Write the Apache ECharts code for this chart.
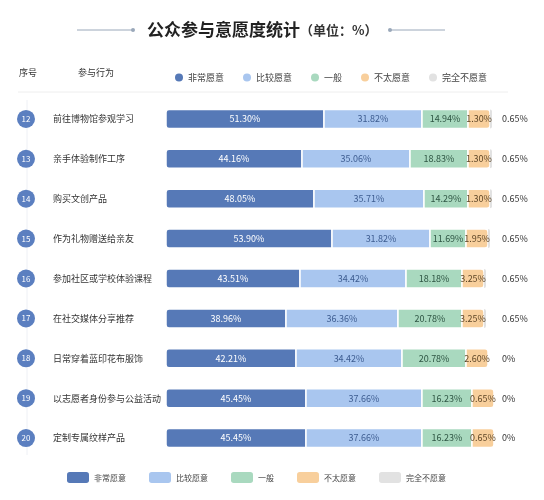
<!DOCTYPE html>
<html>
<head>
<meta charset="utf-8">
<title>公众参与意愿度统计</title>
<script src="https://cdn.jsdelivr.net/npm/echarts@6/dist/echarts.min.js"></script>
<style>
	html, body { margin: 0; padding: 0; background: #fff; }
	#main { width: 544px; height: 500px; }
</style>
</head>
<body>
<div id="main"></div>
<script>
// 序号与参与行为
var ids = [12, 13, 14, 15, 16, 17, 18, 19, 20];
var actions = ['前往博物馆参观学习', '亲手体验制作工序', '购买文创产品', '作为礼物赠送给亲友', '参加社区或学校体验课程',
	'在社交媒体分享推荐', '日常穿着蓝印花布服饰', '以志愿者身份参与公益活动', '定制专属纹样产品'];

// 各意愿等级占比（%）
var veryWilling = [51.30, 44.16, 48.05, 53.90, 43.51, 38.96, 42.21, 45.45, 45.45];
var fairlyWilling = [31.82, 35.06, 35.71, 31.82, 34.42, 36.36, 34.42, 37.66, 37.66];
var neutral = [14.94, 18.83, 14.29, 11.69, 18.18, 20.78, 20.78, 16.23, 16.23];
var unwilling = [1.30, 1.30, 1.30, 1.95, 3.25, 3.25, 2.60, 0.65, 0.65];
var veryUnwilling = [0.65, 0.65, 0.65, 0.65, 0.65, 0.65, 0, 0, 0];

var levels = ['非常愿意', '比较愿意', '一般', '不太愿意', '完全不愿意'];
var colors = ['#5679b7', '#a9c6ef', '#a9d9bf', '#f8cf9c', '#e2e2e2'];
var labelColors = ['#fff', '#3d5c90', '#2e5543', '#5e4627', '#333'];

var FONT = '"Noto Sans CJK SC", "Noto Sans", sans-serif';
var BAR_H = 19;
// 小数值段的最小显示宽度（像素），否则放不下标签
var minWidths = [0, 0, 0, 22, 0];
var allLevels = [veryWilling, fairlyWilling, neutral, unwilling, veryUnwilling];

function pct(v) {
	return v === 0 ? '0%' : v.toFixed(2) + '%';
}

function segWidth(l, row, api) {
	var w = api.size([allLevels[l][row], 0])[0];
	return Math.max(w, minWidths[l]);
}

function makeRender(level) {
	return function(params, api) {
		var row = api.value(1);
		var base = api.coord([0, row]);
		var x = base[0];
		for (var l = 0; l < level; l++) x += segWidth(l, row, api);
		var w = segWidth(level, row, api);
		var r = 0;
		if (level == 0) r = [3, 0, 0, 3];
		if (level == 3 || level == 4) r = [0, 3, 3, 0];
		var last = level == 4;
		var textConfig = { position: 'inside' };
		if (last) {
			// 完全不愿意的数值统一写在右侧一列
			var colX = api.coord([100, row])[0] + 28;
			textConfig = { position: [colX - x, BAR_H / 2], origin: [0, 0] };
		}
		return {
			type: 'rect',
			shape: { x: x, y: base[1] - BAR_H / 2, width: w, height: BAR_H, r: r },
			style: { fill: colors[level], stroke: '#fff', lineWidth: last ? 0 : 1.5 },
			textContent: {
				style: {
					text: pct(api.value(0)),
					fill: labelColors[level],
					fontSize: 9,
					fontFamily: FONT,
					align: last ? 'left' : 'center',
					verticalAlign: 'middle'
				}
			},
			textConfig: textConfig
		};
	};
}

var series = [];
for (var i = 0; i < levels.length; i++) {
	series.push({
		name: levels[i],
		type: 'custom',
		renderItem: makeRender(i),
		encode: { x: 0, y: 1 },
		itemStyle: { color: colors[i] },
		data: allLevels[i].map(function(v, idx) { return [v, idx]; })
	});
}

var chart = echarts.init(document.getElementById('main'));

var option = {
	backgroundColor: '#fff',
	animation: false,
	textStyle: { fontFamily: FONT },
	color: colors,
	title: {
		left: 142,
		top: 16,
		text: '{a|公众参与意愿度统计}{b|（单位：%）}',
		textStyle: {
			rich: {
				a: { fontSize: 17, fontWeight: 'bold', color: '#222', fontFamily: FONT },
				b: { fontSize: 13, fontWeight: 'bold', color: '#333', fontFamily: FONT, padding: [2, 0, 0, 0] }
			}
		}
	},
	legend: [
		{
			data: levels,
			left: 170,
			top: 68,
			icon: 'circle',
			itemWidth: 8,
			itemHeight: 8,
			itemGap: 19,
			itemStyle: { borderWidth: 0 },
			textStyle: { fontSize: 9, color: '#444', fontFamily: FONT },
			selectedMode: false
		},
		{
			data: levels,
			left: 62,
			top: 467,
			icon: 'roundRect',
			itemWidth: 22,
			itemHeight: 11,
			itemGap: 23,
			itemStyle: { borderWidth: 0 },
			textStyle: { fontSize: 8, color: '#444', fontFamily: FONT },
			selectedMode: false
		}
	],
	grid: {
		left: 166,
		right: 70,
		top: 99,
		bottom: 42
	},
	xAxis: {
		type: 'value',
		min: 0,
		max: 100,
		show: false
	},
	yAxis: {
		type: 'category',
		inverse: true,
		data: actions,
		axisLine: { show: false },
		axisTick: { show: false },
		axisLabel: {
			align: 'left',
			margin: 149,
			formatter: function(value, index) {
				return '{num|' + ids[index] + '}{name|' + value + '}';
			},
			rich: {
				num: {
					width: 18,
					height: 18,
					lineHeight: 18,
					align: 'center',
					borderRadius: 9,
					backgroundColor: '#5b7fc0',
					color: '#fff',
					fontSize: 8,
					fontFamily: FONT
				},
				name: {
					fontSize: 9,
					color: '#333',
					padding: [0, 0, 0, 18],
					fontFamily: FONT
				}
			}
		}
	},
	graphic: [
		// 标题两侧装饰线
		{ type: 'line', shape: { x1: 77, y1: 30, x2: 133, y2: 30 }, style: { stroke: '#9aa8ba', lineWidth: 1 } },
		{ type: 'circle', shape: { cx: 133, cy: 30, r: 2 }, style: { fill: '#9aa8ba' } },
		{ type: 'line', shape: { x1: 390, y1: 30, x2: 445, y2: 30 }, style: { stroke: '#9aa8ba', lineWidth: 1 } },
		{ type: 'circle', shape: { cx: 390, cy: 30, r: 2 }, style: { fill: '#9aa8ba' } },
		// 表头
		{ type: 'text', left: 19, top: 68, style: { text: '序号', fontSize: 9, fill: '#333', fontFamily: FONT } },
		{ type: 'text', left: 78, top: 68, style: { text: '参与行为', fontSize: 9, fill: '#333', fontFamily: FONT } },
		{ type: 'line', shape: { x1: 18, y1: 92, x2: 508, y2: 92 }, style: { stroke: '#eeeeee', lineWidth: 1 } },
		// 序号竖线
		{ type: 'line', z: -1, shape: { x1: 27, y1: 100, x2: 27, y2: 455 }, style: { stroke: '#eef0f5', lineWidth: 1 } }
	],
	series: series
};

chart.setOption(option);
</script>
</body>
</html>
